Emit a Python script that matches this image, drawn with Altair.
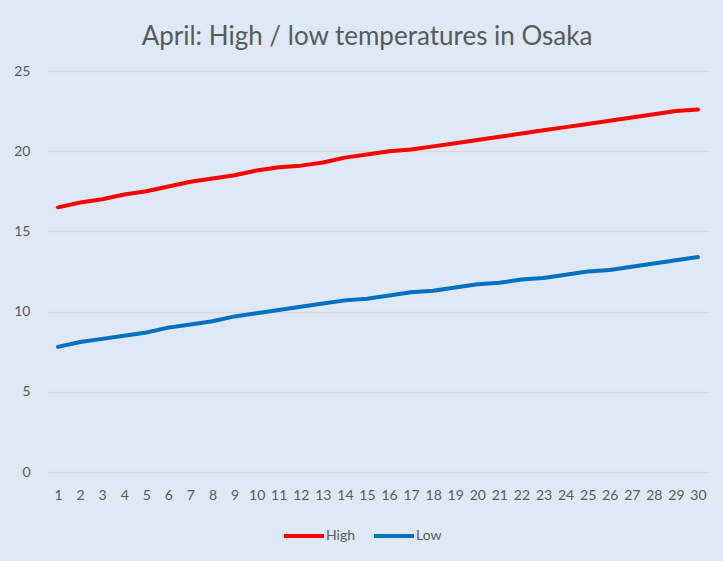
import altair as alt
import pandas as pd

days = list(range(1, 31))
high = [16.5, 16.8, 17.0, 17.3, 17.5, 17.8, 18.1, 18.3, 18.5, 18.8,
        19.0, 19.1, 19.3, 19.6, 19.8, 20.0, 20.1, 20.3, 20.5, 20.7,
        20.9, 21.1, 21.3, 21.5, 21.7, 21.9, 22.1, 22.3, 22.5, 22.6]
low = [7.8, 8.1, 8.3, 8.5, 8.7, 9.0, 9.2, 9.4, 9.7, 9.9,
       10.1, 10.3, 10.5, 10.7, 10.8, 11.0, 11.2, 11.3, 11.5, 11.7,
       11.8, 12.0, 12.1, 12.3, 12.5, 12.6, 12.8, 13.0, 13.2, 13.4]
series = ["High", "Low"]
colors = ["#ff0000", "#0070c0"]

df = pd.DataFrame({
    "day": days * 2,
    "temp": high + low,
    "series": ["High"] * 30 + ["Low"] * 30,
})

txt = "#595959"
font = "Lato"

chart = alt.Chart(df).mark_line(strokeWidth=4, strokeCap="round", strokeJoin="round").encode(
    x=alt.X("day:O", title=None,
            axis=alt.Axis(labelAngle=0, ticks=False, domain=False, labelPadding=16,
                          labelFontSize=14, labelColor=txt, labelFont=font)),
    y=alt.Y("temp:Q", title=None,
            scale=alt.Scale(domain=[0, 25], nice=False),
            axis=alt.Axis(values=[0, 5, 10, 15, 20, 25], ticks=False, domain=False,
                          labelPadding=17, labelFontSize=14, labelColor=txt, labelFont=font,
                          gridColor="#d9d9d9", gridWidth=1.5)),
    color=alt.Color("series:N", title=None,
                    scale=alt.Scale(domain=series, range=colors),
                    legend=alt.Legend(orient="none", direction="horizontal",
                                      legendX=235, legendY=443,
                                      symbolType="stroke", symbolStrokeWidth=4, symbolSize=1600,
                                      labelFontSize=14, labelColor=txt, labelFont=font,
                                      columnPadding=10, labelOffset=0)),
).properties(
    width=662, height=401,
    title=alt.Title("April: High / low temperatures in Osaka", fontSize=26, font=font,
                    color=txt, fontWeight="normal", anchor="middle", offset=14, dx=-11),
    background="#dee9f5",
    padding={"left": 47, "top": 71, "right": 14, "bottom": 89},
    autosize=alt.AutoSizeParams(type="none"),
).configure_view(stroke=None)

chart.save("out.html", embed_options={"renderer": "svg", "actions": False})
